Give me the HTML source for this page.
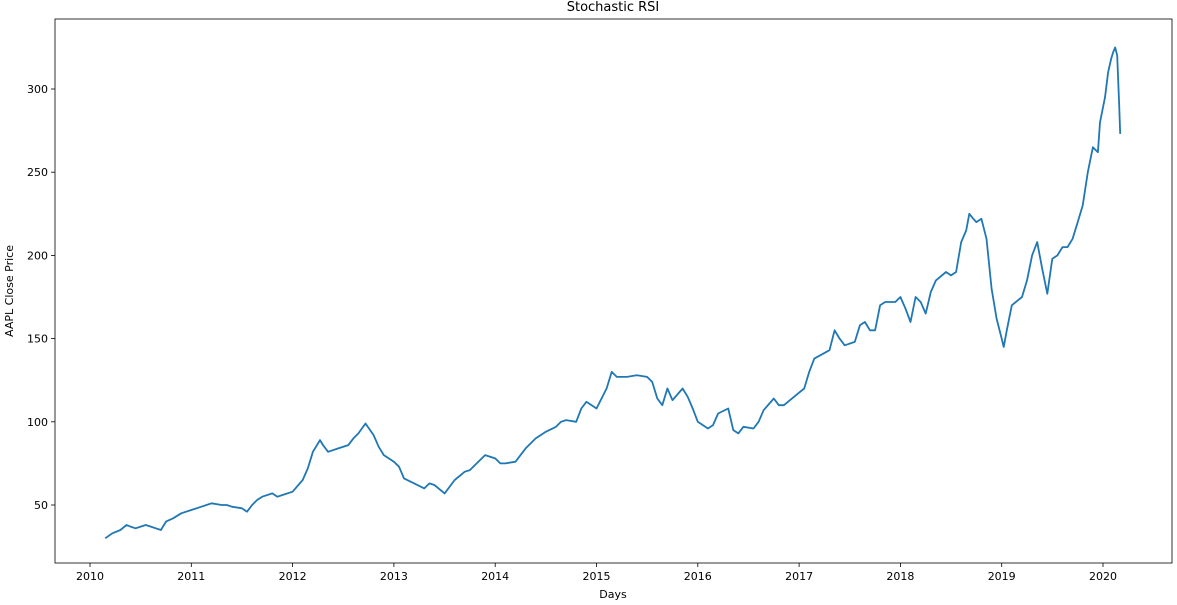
<!DOCTYPE html>
<html><head><meta charset="utf-8"><style>
body{margin:0;background:#fff;font-family:"DejaVu Sans","Liberation Sans",sans-serif;}
svg text{font-family:"DejaVu Sans","Liberation Sans",sans-serif;font-size:11px;fill:#000;}
</style></head><body>
<svg id="chart" width="1177" height="601" xmlns="http://www.w3.org/2000/svg">
<text x="613" y="11" text-anchor="middle" style="font-size:13px">Stochastic RSI</text>
<g id="plot"></g>
<text x="613" y="598" text-anchor="middle">Days</text>
<text transform="translate(13,291) rotate(-90)" text-anchor="middle">AAPL Close Price</text>
</svg>
<script>
const dates=[2010.15,2010.22,2010.3,2010.36,2010.4,2010.45,2010.5,2010.55,2010.6,2010.65,2010.7,2010.75,2010.82,2010.9,2011.0,2011.1,2011.15,2011.2,2011.3,2011.35,2011.4,2011.5,2011.55,2011.6,2011.65,2011.7,2011.8,2011.85,2011.9,2012.0,2012.1,2012.15,2012.2,2012.27,2012.3,2012.35,2012.45,2012.55,2012.6,2012.65,2012.72,2012.8,2012.85,2012.9,2012.95,2013.0,2013.05,2013.1,2013.2,2013.3,2013.35,2013.4,2013.5,2013.6,2013.7,2013.75,2013.8,2013.9,2014.0,2014.05,2014.1,2014.2,2014.3,2014.4,2014.5,2014.6,2014.65,2014.7,2014.8,2014.85,2014.9,2015.0,2015.1,2015.15,2015.2,2015.3,2015.4,2015.5,2015.55,2015.6,2015.65,2015.7,2015.75,2015.85,2015.9,2015.95,2016.0,2016.1,2016.15,2016.2,2016.3,2016.35,2016.4,2016.45,2016.55,2016.6,2016.65,2016.75,2016.8,2016.85,2016.95,2017.05,2017.1,2017.15,2017.3,2017.35,2017.4,2017.45,2017.55,2017.6,2017.65,2017.7,2017.75,2017.8,2017.85,2017.9,2017.95,2018.0,2018.05,2018.1,2018.15,2018.2,2018.25,2018.3,2018.35,2018.45,2018.5,2018.55,2018.6,2018.65,2018.68,2018.72,2018.75,2018.8,2018.85,2018.9,2018.95,2019.0,2019.02,2019.05,2019.1,2019.2,2019.25,2019.3,2019.35,2019.4,2019.45,2019.5,2019.55,2019.6,2019.65,2019.7,2019.75,2019.8,2019.85,2019.9,2019.95,2019.97,2020.02,2020.05,2020.08,2020.1,2020.12,2020.14,2020.16,2020.17];
const prices=[30,33,35,38,37,36,37,38,37,36,35,40,42,45,47,49,50,51,50,50,49,48,46,50,53,55,57,55,56,58,65,72,82,89,86,82,84,86,90,93,99,92,85,80,78,76,73,66,63,60,63,62,57,65,70,71,74,80,78,75,75,76,84,90,94,97,100,101,100,108,112,108,120,130,127,127,128,127,124,114,110,120,113,120,115,108,100,96,98,105,108,95,93,97,96,100,107,114,110,110,115,120,130,138,143,155,150,146,148,158,160,155,155,170,172,172,172,175,168,160,175,172,165,178,185,190,188,190,208,215,225,222,220,222,210,180,162,150,145,155,170,175,185,200,208,192,177,198,200,205,205,210,220,230,250,265,262,280,295,310,318,322,325,320,290,273];
const yTicks=[50,100,150,200,250,300];
const xTicks=[2010,2011,2012,2013,2014,2015,2016,2017,2018,2019,2020];
const L=55,R=1172,T=19,B=563;
const x=v=>90+(v-2010)*101.3;
const y=v=>505-(v-50)*1.664;
const NS="http://www.w3.org/2000/svg";
const g=document.getElementById('plot');
function mk(t,a){const e=document.createElementNS(NS,t);for(const k in a)e.setAttribute(k,a[k]);g.appendChild(e);return e;}
let d="";
dates.forEach((v,i)=>{d+=(i?"L":"M")+x(v).toFixed(1)+","+y(prices[i]).toFixed(1);});
const line=mk('path',{d:d,fill:'none',stroke:'#1f77b4','stroke-width':1.8,'stroke-linejoin':'round'});


const frame=mk('rect',{x:L,y:T,width:R-L,height:B-T,fill:'none',stroke:'#000','stroke-width':0.8});


yTicks.forEach(v=>{
 mk('line',{x1:L-4,x2:L,y1:y(v),y2:y(v),stroke:'#000','stroke-width':0.8});
 const t=mk('text',{x:L-7,y:y(v)+4,'text-anchor':'end'});t.textContent=v;
 
 
});
xTicks.forEach(v=>{
 mk('line',{x1:x(v),x2:x(v),y1:B,y2:B+4,stroke:'#000','stroke-width':0.8});
 const t=mk('text',{x:x(v),y:B+17,'text-anchor':'middle'});t.textContent=v;
 
 
});
</script>
</body></html>
